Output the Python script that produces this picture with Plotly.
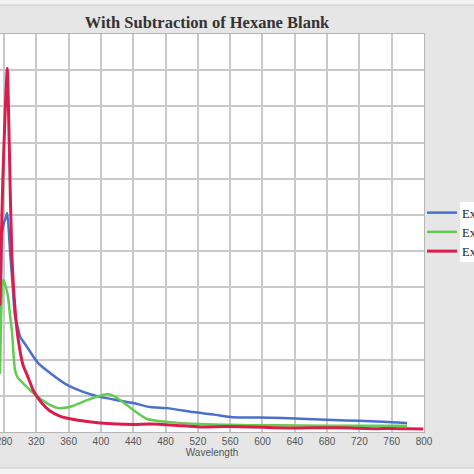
import plotly.graph_objects as go

# ---- data ----
names = ["Extract 1", "Extract 2", "Extract 3"]
colors = ["#4a6fcc", "#62cc52", "#d81e4c"]

wl_blue = [275, 276.3, 277.5, 280, 282, 284, 287.4, 290.5, 293.6, 297.3, 300, 308.5, 322, 337, 358,
           378, 399, 420, 440, 461, 482, 514, 540, 563, 595, 625, 655, 687, 720, 749, 779]
val_blue = [0.33, 0.41, 0.55, 0.58, 0.59, 0.605, 0.50, 0.41, 0.32, 0.287, 0.263, 0.235, 0.191, 0.163, 0.130,
            0.111, 0.097, 0.088, 0.080, 0.069, 0.066, 0.055, 0.048, 0.041, 0.040, 0.039, 0.036, 0.033, 0.031, 0.028, 0.025]

wl_green = [275, 276.3, 277.5, 279, 281, 285, 287.4, 290, 293.6, 297.3, 303.5, 316, 333, 347, 356,
            365, 383, 399, 408, 416, 424, 440, 457, 482, 523, 585, 646, 708, 779]
val_green = [0.16, 0.31, 0.39, 0.42, 0.41, 0.373, 0.323, 0.274, 0.171, 0.149, 0.135, 0.108, 0.080, 0.066, 0.067,
             0.072, 0.088, 0.100, 0.105, 0.099, 0.088, 0.061, 0.036, 0.028, 0.022, 0.019, 0.018, 0.017, 0.017]

wl_red = [275, 276.3, 278.4, 281, 284, 286.6, 289.5, 293.6, 297.3, 303.5, 308.5, 316, 321, 328, 337,
          349, 370, 399, 440, 461, 490, 523, 555, 585, 615, 646, 680, 708, 740, 758, 780, 799]
val_red = [0.35, 0.50, 0.69, 0.86, 1.005, 0.78, 0.50, 0.34, 0.26, 0.185, 0.158, 0.116, 0.097, 0.077, 0.058,
           0.044, 0.033, 0.025, 0.021, 0.022, 0.019, 0.014, 0.015, 0.014, 0.012, 0.011, 0.012, 0.011, 0.009, 0.010, 0.009, 0.008]

x_ticks = list(range(280, 801, 40))
title_text = "With Subtraction of Hexane Blank"
x_title = "Wavelength"

# ---- figure ----
fig = go.Figure()
for wl, val, nm, col, w in [(wl_blue, val_blue, names[0], colors[0], 2.5),
                             (wl_green, val_green, names[1], colors[1], 2.5),
                             (wl_red, val_red, names[2], colors[2], 3)]:
    fig.add_trace(go.Scatter(x=wl, y=val, mode="lines", name=nm,
                             line=dict(color=col, width=w, shape="spline", smoothing=0.6)))

H_PLOT = 398.0
def py(pix):  # pixel from top -> paper y
    return (432 - pix) / H_PLOT

shapes = [
    dict(type="rect", xref="paper", yref="paper", x0=-0.1, x1=1.2, y0=py(5), y1=py(-5),
         fillcolor="#f3f3f3", line=dict(width=0), layer="below"),
    dict(type="line", xref="paper", yref="paper", x0=-0.1, x1=1.2, y0=py(5), y1=py(5),
         line=dict(color="#cdcdcd", width=1), layer="below"),
    dict(type="rect", xref="paper", yref="paper", x0=-0.1, x1=1.2, y0=py(480), y1=py(468),
         fillcolor="#f3f3f3", line=dict(width=0), layer="below"),
    dict(type="line", xref="paper", yref="paper", x0=-0.1, x1=1.2, y0=py(468), y1=py(468),
         line=dict(color="#cdcdcd", width=1), layer="below"),
    # white legend text box
    dict(type="rect", xref="paper", yref="paper", x0=460 / 424, x1=1.2, y0=py(262), y1=py(202),
         fillcolor="white", line=dict(width=0), layer="above"),
]

fig.update_layout(
    width=474, height=474,
    margin=dict(l=0, r=50, t=34, b=42, autoexpand=False),
    paper_bgcolor="#e6e6e6",
    plot_bgcolor="white",
    title=dict(text="<b>" + title_text + "</b>", x=207 / 474, xref="container", xanchor="center",
               y=1 - 22 / 474, yref="container", yanchor="middle",
               font=dict(family="Liberation Serif", size=16.5, color="#333333")),
    xaxis=dict(range=[275, 800], tickvals=x_ticks, ticktext=[str(t) for t in x_ticks],
               ticklabeloverflow="allow",
               showgrid=True, gridcolor="#c9c9c9", gridwidth=1.6,
               showline=True, linecolor="#b5b5b5", linewidth=1, mirror=True,
               ticks="", zeroline=False,
               tickfont=dict(family="Liberation Sans", size=10, color="#555555"),
               title=dict(text=x_title, standoff=2,
                          font=dict(family="Liberation Sans", size=10, color="#555555"))),
    yaxis=dict(range=[0, 1.1], dtick=0.1, showticklabels=False,
               showgrid=True, gridcolor="#c9c9c9", gridwidth=1.6,
               showline=True, linecolor="#b5b5b5", linewidth=1, mirror=True,
               ticks="", zeroline=False),
    legend=dict(x=422 / 424, xanchor="left", y=py(198), yanchor="top",
                bgcolor="rgba(0,0,0,0)", borderwidth=0, tracegroupgap=0,
                font=dict(family="Liberation Serif", size=12.5, color="#222222")),
    shapes=shapes,
    showlegend=True,
)

fig.write_html("out.html")
